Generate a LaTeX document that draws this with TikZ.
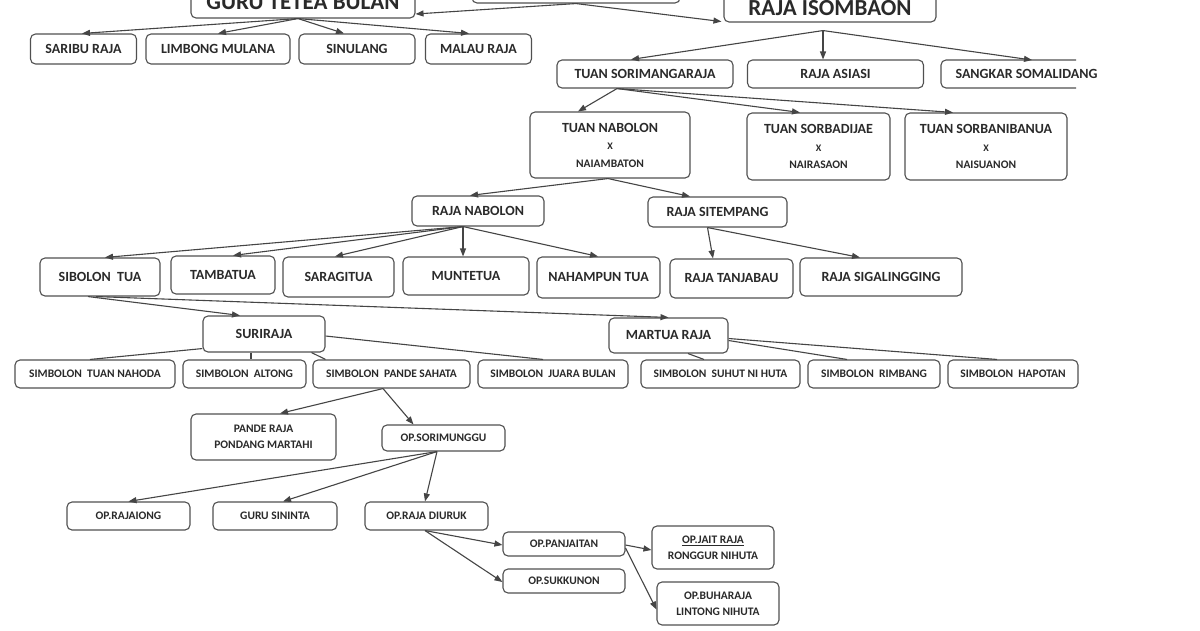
\documentclass[tikz,border=0pt]{standalone}
\usepackage{fontspec}
\setmainfont{Carlito}
\usetikzlibrary{arrows.meta}
\definecolor{boxc}{HTML}{505050}
\definecolor{linec}{HTML}{454545}
\definecolor{txt}{HTML}{2a2a2a}
\begin{document}
\begin{tikzpicture}[x=1pt,y=-1pt,
  box/.style={draw=boxc, line width=1.1pt, rounded corners=5pt, inner sep=0pt, text=txt, font=\bfseries\fontsize{14}{16}\selectfont},
  big/.style={font=\bfseries\fontsize{23}{25}\selectfont},
  sm/.style={font=\bfseries\fontsize{11.5}{13}\selectfont},
  tri/.style={align=center, font=\bfseries\fontsize{14}{17.5}\selectfont},
  two/.style={align=center, font=\bfseries\fontsize{11.5}{16}\selectfont},
  arr/.style={draw=linec, line width=1.1pt, -{Triangle[length=8pt,width=6pt]}},
  ln/.style={draw=linec, line width=1.1pt},
]
\useasboundingbox (0,0) rectangle (1200,630);
\clip (0,0) rectangle (1200,630);
\fill[white] (0,0) rectangle (1200,630);

% top
\node[box, big, minimum width=224pt, minimum height=31pt] (guru) at (303,2.5) {GURU TETEA BULAN};
\node[box, minimum width=208pt, minimum height=33pt] (topbox) at (576,-13.5) {};
\node[box, big, minimum width=212pt, minimum height=28pt] (isombaon) at (830,8) {RAJA ISOMBAON};
\draw[arr] (topbox.south) -- ([yshift=-11.5pt]guru.east);
\draw[arr] (topbox.south) -- ([xshift=-2pt,yshift=1pt]isombaon.south west);

% row 1 left
\node[box, minimum width=106pt, minimum height=30pt] (saribu) at (83.5,49) {SARIBU RAJA};
\node[box, minimum width=144pt, minimum height=30pt] (limbong) at (218,49) {LIMBONG MULANA};
\node[box, minimum width=116pt, minimum height=30pt] (sinulang) at (357,49) {SINULANG};
\node[box, minimum width=106pt, minimum height=30pt] (malau) at (478.5,49) {MALAU RAJA};
\coordinate (gs) at ([xshift=-5pt]guru.south);
\draw[arr] (gs) -- ([xshift=-1.5pt]saribu.north);
\draw[arr] (gs) -- ([xshift=0pt]limbong.north);
\draw[arr] (gs) -- ([xshift=-13pt]sinulang.north);
\draw[arr] (gs) -- ([xshift=-9.5pt]malau.north);

% row 1 right
\node[box, minimum width=176pt, minimum height=28pt] (sorimangaraja) at (645,74) {TUAN SORIMANGARAJA};
\node[box, minimum width=176pt, minimum height=28pt] (asiasi) at (835.5,74) {RAJA ASIASI};
\node[box, draw=none, anchor=west] (sangkar) at (955,74) {SANGKAR SOMALIDANG};
\draw[boxc, line width=1.1pt, rounded corners=5pt] (1076,60) -- (941,60) -- (941,88) -- (1076,88);
\coordinate (sgtop) at (1032,60);
\coordinate (is) at ([xshift=-7pt,yshift=-8pt]isombaon.south);
\draw[arr] (is) -- ([xshift=-14pt]sorimangaraja.north);
\draw[arr] (is) -- ([xshift=-12.5pt]asiasi.north);
\draw[arr] (is) -- (sgtop);

% row 2
\node[box, tri, minimum width=160pt, minimum height=66pt] (nabolon) at (610,145) {TUAN NABOLON\\{\fontsize{10}{17.5}\selectfont X}\\{\fontsize{11.5}{17.5}\selectfont NAIAMBATON}};
\node[box, tri, minimum width=143pt, minimum height=67pt] (sorbadijae) at (818.5,146.5) {TUAN SORBADIJAE\\{\fontsize{10}{17.5}\selectfont X}\\{\fontsize{11.5}{17.5}\selectfont NAIRASAON}};
\node[box, tri, minimum width=162pt, minimum height=67pt] (sorbanibanua) at (986,146.5) {TUAN SORBANIBANUA\\{\fontsize{10}{17.5}\selectfont X}\\{\fontsize{11.5}{17.5}\selectfont NAISUANON}};
\coordinate (ss) at ([xshift=-28pt]sorimangaraja.south);
\draw[arr] (ss) -- ([xshift=-32pt]nabolon.north);
\draw[arr] (ss) -- ([xshift=-18.5pt]sorbadijae.north);
\draw[arr] (ss) -- ([xshift=-33pt]sorbanibanua.north);

% row 3
\node[box, minimum width=132pt, minimum height=30pt] (rajanabolon) at (478,211) {RAJA NABOLON};
\node[box, minimum width=139pt, minimum height=30pt] (sitempang) at (717.5,212) {RAJA SITEMPANG};
\coordinate (ns) at ([xshift=-2pt]nabolon.south);
\draw[arr] (ns) -- ([xshift=-8pt]rajanabolon.north);
\draw[arr] (ns) -- ([xshift=-27.5pt]sitempang.north);

% row 4
\node[box, minimum width=120pt, minimum height=38pt] (sibolon) at (100,277) {SIBOLON\ \ TUA};
\node[box, minimum width=104pt, minimum height=38pt] (tambatua) at (223,275) {TAMBATUA};
\node[box, minimum width=111pt, minimum height=40pt] (saragitua) at (338.5,277) {SARAGITUA};
\node[box, minimum width=126pt, minimum height=38pt] (muntetua) at (466,276) {MUNTETUA};
\node[box, minimum width=123pt, minimum height=41pt] (nahampun) at (598.5,277.5) {NAHAMPUN TUA};
\node[box, minimum width=123pt, minimum height=39pt] (tanjabau) at (731.5,278.5) {RAJA TANJABAU};
\node[box, minimum width=162pt, minimum height=38pt] (sigalingging) at (881,277) {RAJA SIGALINGGING};
\coordinate (rn) at ([xshift=-15pt]rajanabolon.south);
\draw[arr] (rn) -- ([xshift=5pt]sibolon.north);
\draw[arr] (rn) -- ([xshift=10pt]tambatua.north);
\draw[arr] (rn) -- ([xshift=-3.5pt]saragitua.north);
\draw[arr] (rn) -- ([xshift=-3pt]muntetua.north);
\draw[arr] (rn) -- ([xshift=-0.5pt]nahampun.north);
\coordinate (st) at ([xshift=-10pt]sitempang.south);
\draw[arr] (st) -- ([xshift=-18.5pt]tanjabau.north);
\draw[arr] (st) -- ([xshift=-21pt]sigalingging.north);

% row 5
\node[box, minimum width=122pt, minimum height=36pt] (suriraja) at (264,334) {SURIRAJA};
\node[box, minimum width=119pt, minimum height=35pt] (martua) at (668.5,335.5) {MARTUA RAJA};
\draw[arr] ([xshift=-12pt]sibolon.south) -- ([xshift=-24pt]suriraja.north);
\draw[arr] ([xshift=-4pt]sibolon.south) -- ([xshift=0pt]martua.north);

% row 6
\node[box, sm, minimum width=160pt, minimum height=28pt] (nahoda) at (95,374) {SIMBOLON\ \ TUAN NAHODA};
\node[box, sm, minimum width=123pt, minimum height=28pt] (altong) at (244.5,374) {SIMBOLON\ \ ALTONG};
\node[box, sm, minimum width=157pt, minimum height=28pt] (pande) at (391.5,374) {SIMBOLON\ \ PANDE SAHATA};
\node[box, sm, minimum width=150pt, minimum height=28pt] (juara) at (553,374) {SIMBOLON\ \ JUARA BULAN};
\node[box, sm, minimum width=159pt, minimum height=28pt] (suhut) at (720.5,374) {SIMBOLON\ \ SUHUT NI HUTA};
\node[box, sm, minimum width=132pt, minimum height=28pt] (rimbang) at (874,374) {SIMBOLON\ \ RIMBANG};
\node[box, sm, minimum width=130pt, minimum height=28pt] (hapotan) at (1013,374) {SIMBOLON\ \ HAPOTAN};
\draw[ln] ([yshift=4pt]suriraja.south west) -- ([xshift=-5pt]nahoda.north);
\draw[ln] ([xshift=-13pt]suriraja.south) -- ([xshift=6.5pt]altong.north);
\draw[ln] ([xshift=-14pt]suriraja.south east) -- ([xshift=-66pt]pande.north);
\draw[ln] ([yshift=-2pt]suriraja.east) -- ([xshift=-10pt]juara.north);
\draw[ln] ([xshift=19.5pt]martua.south) -- ([xshift=-16.5pt]suhut.north);
\draw[ln] ([yshift=-5pt]martua.east) -- ([xshift=-27pt]rimbang.north);
\draw[ln] ([yshift=-3pt]martua.east) -- ([xshift=-16pt]hapotan.north);

% row 7
\node[box, two, minimum width=145pt, minimum height=46pt] (panderaja) at (263.5,437) {PANDE RAJA\\PONDANG MARTAHI};
\node[box, sm, minimum width=123pt, minimum height=26pt] (sorimunggu) at (443.5,438) {OP.SORIMUNGGU};
\coordinate (ps) at ([xshift=-8.5pt]pande.south);
\draw[arr] (ps) -- ([xshift=16.5pt]panderaja.north);
\draw[arr] (ps) -- ([xshift=-30pt]sorimunggu.north);

% row 8
\node[box, sm, minimum width=123pt, minimum height=28pt] (rajaiong) at (128.5,516) {OP.RAJAIONG};
\node[box, sm, minimum width=124pt, minimum height=28pt] (sininta) at (275,516) {GURU SININTA};
\node[box, sm, minimum width=123pt, minimum height=28pt] (diuruk) at (426.5,516) {OP.RAJA DIURUK};
\coordinate (so) at ([xshift=-6.5pt]sorimunggu.south);
\draw[arr] (so) -- (rajaiong.north);
\draw[arr] (so) -- ([xshift=8pt]sininta.north);
\draw[arr] (so) -- ([xshift=-1.5pt]diuruk.north);

% row 9
\node[box, sm, minimum width=122pt, minimum height=24pt] (panjaitan) at (564,544) {OP.PANJAITAN};
\node[box, sm, minimum width=122pt, minimum height=24pt] (sukkunon) at (564,581) {OP.SUKKUNON};
\node[box, two, minimum width=122pt, minimum height=43pt] (jaitraja) at (713,547.5) {\underline{OP.JAIT RAJA}\\RONGGUR NIHUTA};
\node[box, two, minimum width=122pt, minimum height=43pt] (buharaja) at (718,603.5) {OP.BUHARAJA\\LINTONG NIHUTA};
\coordinate (ds) at ([xshift=-1.5pt]diuruk.south);
\draw[arr] (ds) -- ([yshift=-1pt]panjaitan.west);
\draw[arr] (ds) -- ([yshift=-1pt]sukkunon.west);
\draw[arr] ([yshift=-1pt]panjaitan.east) -- ([yshift=-2.5pt]jaitraja.west);
\draw[arr] ([yshift=-4pt]panjaitan.east) -- ([yshift=-6pt]buharaja.west);
\end{tikzpicture}
\end{document}
